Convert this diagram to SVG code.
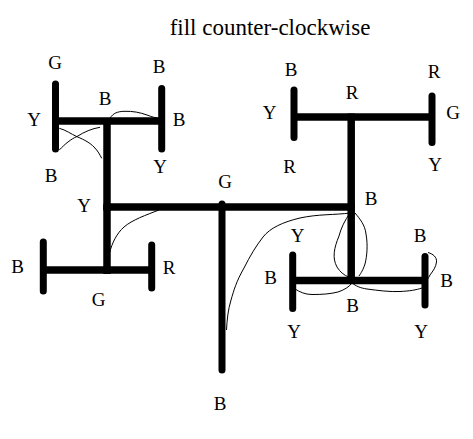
<svg xmlns="http://www.w3.org/2000/svg" width="473" height="439" viewBox="0 0 473 439">
<style>
.bar{stroke:#000;stroke-width:7.5;fill:none;stroke-linecap:butt}
.end{stroke:#000;stroke-width:7;fill:none;stroke-linecap:round}
.curve{stroke:#000;stroke-width:1;fill:none}
text{font-family:"Liberation Serif","Times New Roman",serif;font-size:19px;fill:#000;text-anchor:middle}
.title{font-size:23px}
</style>
<rect width="473" height="439" fill="#fff"/>
<text class="title" x="270" y="35">fill counter-clockwise</text>

<g id="trunk">
  <line class="bar" x1="103.5" y1="207" x2="355" y2="207"/>
  <line class="end" x1="222" y1="204" x2="222" y2="370"/>
  <text x="225" y="188">G</text>
  <text x="220" y="410">B</text>
  <text x="84" y="212">Y</text>
  <text x="371" y="205">B</text>
</g>

<g id="node-top-left">
  <line class="bar" x1="107" y1="118" x2="107" y2="210"/>
  <line class="bar" x1="55" y1="121" x2="162" y2="121"/>
  <line class="end" x1="55.5" y1="84" x2="55.5" y2="149"/>
  <line class="end" x1="161.7" y1="88.5" x2="161.7" y2="149"/>
  <text x="55" y="69">G</text>
  <text x="159" y="73">B</text>
  <text x="105" y="105">B</text>
  <text x="34" y="126">Y</text>
  <text x="179" y="126">B</text>
  <text x="51" y="181.5">B</text>
  <text x="160" y="173">Y</text>
</g>

<g id="node-bottom-left">
  <line class="bar" x1="107" y1="205" x2="107" y2="274"/>
  <line class="bar" x1="43" y1="270" x2="152" y2="270"/>
  <line class="end" x1="43.3" y1="242" x2="43.3" y2="291"/>
  <line class="end" x1="151.7" y1="245" x2="151.7" y2="288"/>
  <text x="17.5" y="272.5">B</text>
  <text x="169" y="274">R</text>
  <text x="98.5" y="306">G</text>
</g>

<g id="node-top-right">
  <line class="bar" x1="351.2" y1="113.5" x2="351.2" y2="210"/>
  <line class="bar" x1="294" y1="117" x2="432" y2="117"/>
  <line class="end" x1="294" y1="90" x2="294" y2="137.5"/>
  <line class="end" x1="432" y1="96" x2="432" y2="142.5"/>
  <text x="291" y="76">B</text>
  <text x="434" y="77.5">R</text>
  <text x="352" y="99">R</text>
  <text x="269.5" y="119">Y</text>
  <text x="453" y="119">G</text>
  <text x="289.5" y="172.5">R</text>
  <text x="435" y="171">Y</text>
</g>

<g id="node-bottom-right">
  <line class="bar" x1="351.2" y1="204" x2="351.2" y2="284"/>
  <line class="bar" x1="292" y1="280.5" x2="426" y2="280.5"/>
  <line class="end" x1="292.7" y1="255" x2="292.7" y2="308.5"/>
  <line class="end" x1="425" y1="256.5" x2="425" y2="305"/>
  <text x="297.5" y="242">Y</text>
  <text x="420" y="241.5">B</text>
  <text x="270.5" y="284">B</text>
  <text x="446.5" y="286.5">B</text>
  <text x="352.5" y="311.5">B</text>
  <text x="294" y="337.5">Y</text>
  <text x="421" y="337.5">Y</text>
</g>

<g id="connectors">
  <path class="curve" d="M110,118.3 C113,113 118,111.5 124,111.3 C133,111 140,112.5 147,115 C152,117 156,118 160,118.5"/>
  <path class="curve" d="M59.3,150 C65,144 71,139 77,136.5 C84,132 92,128.5 100,127.3"/>
  <path class="curve" d="M59.3,128.3 C66,130 71,134 77,136.7 C85,140 90,143 94,147 C98,151 100,155 101.7,158.3"/>
  <path class="curve" d="M159,210 C146,215 132,220 124,227 C117,233 112,243 109.5,253"/>
  <path class="curve" d="M350,213 C335,215 318,214 300,218 C283,222 270,228 263,237 C256,246 250,256 244,268 C236,282 234,290 231,300 C228,310 227,320 226.5,330"/>
  <path class="curve" d="M350,213 C345,220 341,228 339,236 C334,248 332,258 337,267 C340,272 344,275 348.5,277"/>
  <path class="curve" d="M355,213 C360,219 365,225 366,234 C368,245 367,256 365,264 C363,270 361,273 359,276"/>
  <path class="curve" d="M295,289 C300,292 305,294.5 312,294.5 C322,294.5 330,294 338,292 C344,290 349,287 352,283 C356,286 360,288 367,289 C378,290.5 390,292 400,291.5 C410,291 416,290 422,288"/>
  <path class="curve" d="M428,252.5 C433,254 437,257 436.5,262 C436,267 433,271 430,275 C429,277 428,278.5 427,280"/>
</g>
</svg>
